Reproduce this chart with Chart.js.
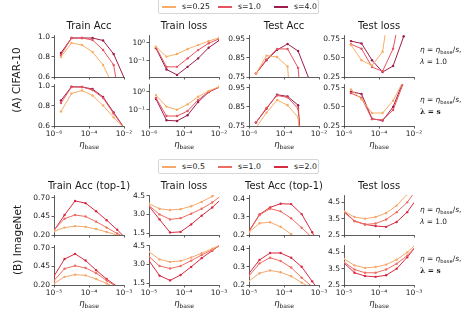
<!DOCTYPE html>
<html>
<head>
<meta charset="utf-8">
<script src="https://cdn.jsdelivr.net/npm/chart.js@4.4.1/dist/chart.umd.min.js"></script>
<style>
  body { margin: 0; width: 474px; height: 322px; position: relative; background: #fff; overflow: hidden;
         font-family: "DejaVu Sans", sans-serif; color: #1a1a1a; }
  canvas { position: absolute; }
  .t { position: absolute; white-space: nowrap; transform: translateX(-50%); font-size: 10px; line-height: 1; }
  .xl { position: absolute; white-space: nowrap; transform: translateX(-50%); font-size: 8.5px; line-height: 1; font-style: italic; }
  .xl sub { font-size: 6px; font-style: normal; vertical-align: -2px; }
  .note { position: absolute; white-space: nowrap; font-size: 7.4px; line-height: 10px; }
  .note sub { font-size: 5.2px; vertical-align: -1.5px; }
  .side { position: absolute; white-space: nowrap; font-size: 10.5px; transform: translate(-50%, -50%) rotate(-90deg); }
  .legend { position: absolute; border: 1px solid #d6d6d6; border-radius: 2px; background: #fff; }
  .legend span { position: absolute; font-size: 7.8px; line-height: 1; }
  .legend i { position: absolute; height: 1.5px; }
</style>
</head>
<body>
<script>
// learning rates (x axis, eta_base)
const cifarLR = [2.5e-6, 1e-5, 4e-5, 1.6e-4, 6.4e-4, 2.56e-3, 1.024e-2];
const imagenetLR = [1e-5, 2e-5, 4e-5, 8e-5, 1.6e-4, 3.2e-4, 6.4e-4, 1.28e-3];

const cifarSeries = ['s=0.25', 's=1.0', 's=4.0'];
const imagenetSeries = ['s=0.5', 's=1.0', 's=2.0'];
const cifarColors = ['#f6ae66', '#e5545e', '#9e1c4c'];
const imagenetColors = ['#f5a86b', '#ee6d62', '#d82a42'];

const cifarXTicks = [1e-6, 1e-4, 1e-2];
const cifarXLabels = ['10⁻⁶', '10⁻⁴', '10⁻²'];
const imagenetXTicks = [1e-5, 1e-4, 1e-3];
const imagenetXLabels = ['10⁻⁵', '10⁻⁴', '10⁻³'];

// CIFAR-10, lambda = 1.0   (one row per s)
const cifarTrainAcc1 = [
  [0.80, 0.94, 0.92, 0.85, 0.72, 0.50, 0.10],
  [0.82, 0.99, 0.99, 0.97, 0.87, 0.72, 0.10],
  [0.84, 0.99, 0.99, 0.99, 0.965, 0.83, 0.59]];
const cifarTrainLoss1 = [
  [0.60, 0.17, 0.235, 0.45, 0.74, 1.24, 1.9],
  [0.55, 0.046, 0.046, 0.135, 0.39, 0.93, 1.65],
  [0.50, 0.033, 0.0165, 0.046, 0.135, 0.53, 1.35]];
const cifarTestAcc1 = [
  [0.768, 0.862, 0.855, 0.805, 0.10, 0.10, 0.10],
  [0.768, 0.842, 0.897, 0.897, 0.798, 0.10, 0.10],
  [0.768, 0.838, 0.892, 0.923, 0.886, 0.745, 0.10]];
const cifarTestLoss1 = [
  [0.67, 0.47, 0.40, 0.58, 1.5, 2.0, 2.0],
  [0.68, 0.62, 0.38, 0.325, 0.62, 1.3, 2.0],
  [0.72, 0.69, 0.47, 0.315, 0.395, 0.78, 2.0]];

// CIFAR-10, lambda = s
const cifarTrainAcc2 = [
  [0.745, 0.925, 0.955, 0.905, 0.805, 0.686, 0.58],
  [0.83, 0.99, 0.99, 0.96, 0.88, 0.725, 0.58],
  [0.855, 0.993, 0.99, 0.97, 0.89, 0.735, 0.58]];
const cifarTrainLoss2 = [
  [0.65, 0.15, 0.10, 0.20, 0.53, 1.1, 1.9],
  [0.45, 0.045, 0.045, 0.085, 0.35, 1.0, 1.8],
  [0.40, 0.026, 0.024, 0.05, 0.27, 0.95, 1.8]];
const cifarTestAcc2 = [
  [0.74, 0.82, 0.886, 0.859, 0.795, 0.10, 0.10],
  [0.768, 0.845, 0.91, 0.90, 0.841, 0.10, 0.10],
  [0.768, 0.841, 0.914, 0.905, 0.859, 0.10, 0.10]];
const cifarTestLoss2 = [
  [0.73, 0.60, 0.42, 0.42, 0.58, 0.85, 2.0],
  [0.68, 0.62, 0.34, 0.33, 0.46, 0.82, 2.0],
  [0.70, 0.67, 0.345, 0.32, 0.50, 0.85, 2.0]];

// ImageNet, lambda = 1.0
const imagenetTrainAcc1 = [
  [0.25, 0.30, 0.32, 0.31, 0.28, 0.24, 0.20, 0.15],
  [0.27, 0.42, 0.47, 0.45, 0.38, 0.30, 0.22, 0.15],
  [0.26, 0.47, 0.66, 0.63, 0.52, 0.40, 0.27, 0.13]];
const imagenetTrainLoss1 = [
  [3.85, 3.45, 3.35, 3.42, 3.65, 4.0, 4.45, 5.0],
  [3.7, 3.0, 2.6, 2.7, 3.05, 3.45, 3.95, 4.6],
  [3.65, 2.6, 1.55, 1.6, 2.2, 2.9, 3.55, 4.35]];
const imagenetTestAcc1 = [
  [0.215, 0.265, 0.27, 0.245, 0.205, 0.16, 0.12, 0.10],
  [0.218, 0.31, 0.345, 0.33, 0.292, 0.24, 0.185, 0.12],
  [0.222, 0.313, 0.352, 0.372, 0.37, 0.315, 0.215, 0.10]];
const imagenetTestLoss1 = [
  [3.95, 3.6, 3.5, 3.6, 3.85, 4.3, 5.0, 6.0],
  [3.9, 3.35, 3.15, 3.2, 3.45, 3.9, 4.5, 5.4],
  [3.95, 3.35, 3.15, 3.05, 3.0, 3.3, 3.9, 4.8]];

// ImageNet, lambda = s
const imagenetTrainAcc2 = [
  [0.22, 0.31, 0.34, 0.33, 0.28, 0.22, 0.15, 0.10],
  [0.26, 0.42, 0.46, 0.43, 0.36, 0.26, 0.17, 0.10],
  [0.32, 0.55, 0.62, 0.53, 0.40, 0.28, 0.18, 0.10]];
const imagenetTrainLoss2 = [
  [4.0, 3.4, 3.2, 3.28, 3.55, 3.9, 4.25, 4.65],
  [3.62, 2.87, 2.67, 2.87, 3.3, 3.75, 4.17, 4.6],
  [3.3, 2.1, 1.72, 2.15, 2.8, 3.5, 4.1, 4.72]];
const imagenetTestAcc2 = [
  [0.222, 0.265, 0.28, 0.27, 0.248, 0.213, 0.18, 0.13],
  [0.25, 0.319, 0.35, 0.332, 0.296, 0.24, 0.19, 0.12],
  [0.264, 0.338, 0.376, 0.376, 0.35, 0.30, 0.22, 0.14]];
const imagenetTestLoss2 = [
  [4.1, 3.7, 3.55, 3.6, 3.75, 4.05, 4.5, 5.1],
  [3.9, 3.45, 3.25, 3.25, 3.45, 3.8, 4.3, 5.0],
  [3.85, 3.25, 3.05, 3.0, 3.1, 3.5, 4.2, 5.0]];

// y tick values / labels
const cTrainAccTicks = [0.6, 0.8, 1.0], cTrainAccLabels = ['0.6', '0.8', '1.0'];
const cTrainLossTicks = [0.1, 1], cTrainLossLabels = ['10⁻¹', '10⁰'];
const cTestAccTicks = [0.75, 0.85, 0.95], cTestAccLabels = ['0.75', '0.85', '0.95'];
const cTestLossTicks = [0.25, 0.5, 0.75], cTestLossLabels = ['0.25', '0.50', '0.75'];
const iTrainAccTicks = [0.2, 0.45, 0.7], iTrainAccLabels = ['0.20', '0.45', '0.70'];
const iTrainLossTicks = [1.5, 3.0, 4.5], iTrainLossLabels = ['1.5', '3.0', '4.5'];
const iTestAccTicks = [0.2, 0.3, 0.4], iTestAccLabels = ['0.2', '0.3', '0.4'];
const iTestLossTicks = [2.5, 3.5, 4.5], iTestLossLabels = ['2.5', '3.5', '4.5'];

// layout
const colLeft = [54, 149, 249, 344];
const plotW = 70;
const rowTop = [35, 84, 195, 245];
const plotH = [42, 42, 40, 40];
const YW = 34, PT = 6, PR = 14, XH = 15;
const tickFont = { family: 'DejaVu Sans', size: 7.5 };
const ink = '#1a1a1a';

function panel(col, row, xs, xr, xt, xlab, showX, series, colors, yr, yt, ylab, yLog) {
  const c = document.createElement('canvas');
  const W = YW + plotW + PR, H = PT + plotH[row] + XH;
  c.width = W; c.height = H;
  c.style.width = W + 'px'; c.style.height = H + 'px';
  c.style.left = (colLeft[col] - YW) + 'px';
  c.style.top = (rowTop[row] - PT) + 'px';
  document.body.appendChild(c);

  new Chart(c, {
    type: 'line',
    data: {
      datasets: series.map((ys, i) => ({
        data: xs.map((x, j) => ({ x: x, y: ys[j] })),
        borderColor: colors[i],
        backgroundColor: colors[i],
        borderWidth: 1,
        pointRadius: 1.2,
        pointBorderWidth: 0,
        tension: 0
      }))
    },
    options: {
      responsive: false,
      animation: false,
      devicePixelRatio: 1,
      layout: { padding: { top: PT, right: PR, left: 0, bottom: 0 } },
      plugins: { legend: { display: false }, tooltip: { enabled: false } },
      scales: {
        x: {
          type: 'logarithmic', min: xr[0], max: xr[1], bounds: 'data',
          afterBuildTicks: s => { s.ticks = xt.map(v => ({ value: v })); },
          afterFit: s => { s.height = XH; },
          ticks: { display: showX, autoSkip: false, maxRotation: 0, padding: 1.5, font: tickFont, color: ink,
                   callback: (v, i) => xlab[i] },
          grid: { drawOnChartArea: false, tickLength: 2.5, color: '#333', lineWidth: 0.8 },
          border: { color: '#333', width: 0.8 }
        },
        y: {
          type: yLog ? 'logarithmic' : 'linear', min: yr[0], max: yr[1], bounds: 'data',
          afterBuildTicks: s => { s.ticks = yt.map(v => ({ value: v })); },
          afterFit: s => { s.width = YW; },
          ticks: { autoSkip: false, padding: 1.5, font: tickFont, color: ink,
                   callback: (v, i) => ylab[i] },
          grid: { drawOnChartArea: false, tickLength: 2.5, color: '#333', lineWidth: 0.8 },
          border: { color: '#333', width: 0.8 }
        }
      }
    }
  });
}

const cx = [1e-6, 1e-2], ix = [1e-5, 1e-3];
// CIFAR-10
panel(0, 0, cifarLR, cx, cifarXTicks, cifarXLabels, false, cifarTrainAcc1, cifarColors, [0.6, 1.02], cTrainAccTicks, cTrainAccLabels, false);
panel(1, 0, cifarLR, cx, cifarXTicks, cifarXLabels, false, cifarTrainLoss1, cifarColors, [0.0126, 2.68], cTrainLossTicks, cTrainLossLabels, true);
panel(2, 0, cifarLR, cx, cifarXTicks, cifarXLabels, false, cifarTestAcc1, cifarColors, [0.75, 0.97], cTestAccTicks, cTestAccLabels, false);
panel(3, 0, cifarLR, cx, cifarXTicks, cifarXLabels, false, cifarTestLoss1, cifarColors, [0.25, 0.80], cTestLossTicks, cTestLossLabels, false);
panel(0, 1, cifarLR, cx, cifarXTicks, cifarXLabels, true, cifarTrainAcc2, cifarColors, [0.6, 1.02], cTrainAccTicks, cTrainAccLabels, false);
panel(1, 1, cifarLR, cx, cifarXTicks, cifarXLabels, true, cifarTrainLoss2, cifarColors, [0.0126, 2.68], cTrainLossTicks, cTrainLossLabels, true);
panel(2, 1, cifarLR, cx, cifarXTicks, cifarXLabels, true, cifarTestAcc2, cifarColors, [0.75, 0.97], cTestAccTicks, cTestAccLabels, false);
panel(3, 1, cifarLR, cx, cifarXTicks, cifarXLabels, true, cifarTestLoss2, cifarColors, [0.25, 0.80], cTestLossTicks, cTestLossLabels, false);
// ImageNet
panel(0, 2, imagenetLR, ix, imagenetXTicks, imagenetXLabels, false, imagenetTrainAcc1, imagenetColors, [0.2, 0.74], iTrainAccTicks, iTrainAccLabels, false);
panel(1, 2, imagenetLR, ix, imagenetXTicks, imagenetXLabels, false, imagenetTrainLoss1, imagenetColors, [1.35, 4.55], iTrainLossTicks, iTrainLossLabels, false);
panel(2, 2, imagenetLR, ix, imagenetXTicks, imagenetXLabels, false, imagenetTestAcc1, imagenetColors, [0.2, 0.42], iTestAccTicks, iTestAccLabels, false);
panel(3, 2, imagenetLR, ix, imagenetXTicks, imagenetXLabels, false, imagenetTestLoss1, imagenetColors, [2.5, 4.95], iTestLossTicks, iTestLossLabels, false);
panel(0, 3, imagenetLR, ix, imagenetXTicks, imagenetXLabels, true, imagenetTrainAcc2, imagenetColors, [0.2, 0.74], iTrainAccTicks, iTrainAccLabels, false);
panel(1, 3, imagenetLR, ix, imagenetXTicks, imagenetXLabels, true, imagenetTrainLoss2, imagenetColors, [1.35, 4.55], iTrainLossTicks, iTrainLossLabels, false);
panel(2, 3, imagenetLR, ix, imagenetXTicks, imagenetXLabels, true, imagenetTestAcc2, imagenetColors, [0.2, 0.42], iTestAccTicks, iTestAccLabels, false);
panel(3, 3, imagenetLR, ix, imagenetXTicks, imagenetXLabels, true, imagenetTestLoss2, imagenetColors, [2.5, 4.95], iTestLossTicks, iTestLossLabels, false);

// text: titles, axis labels, annotations, legends
function text(cls, x, y, html) {
  const d = document.createElement('div');
  d.className = cls; d.style.left = x + 'px'; d.style.top = y + 'px'; d.innerHTML = html;
  document.body.appendChild(d);
  return d;
}
const cifarTitles = ['Train Acc', 'Train loss', 'Test Acc', 'Test loss'];
const imagenetTitles = ['Train Acc (top-1)', 'Train loss', 'Test Acc (top-1)', 'Test loss'];
colLeft.forEach((l, i) => {
  text('t', l + plotW / 2, 21, cifarTitles[i]);
  text('t', l + plotW / 2, 181, imagenetTitles[i]);
  text('xl', l + plotW / 2, 140, 'η<sub>base</sub>');
  text('xl', l + plotW / 2, 299, 'η<sub>base</sub>');
});
const eta = '<i>η</i> = <i>η</i><sub>base</sub>/<i>s</i>,';
text('note', 420, 45, eta + '<br><i>λ</i> = 1.0');
text('note', 420, 95, eta + '<br><b style="font-family:\'DejaVu Serif\'">λ = s</b>');
text('note', 420, 205, eta + '<br><i>λ</i> = 1.0');
text('note', 420, 254, eta + '<br><b style="font-family:\'DejaVu Serif\'">λ = s</b>');
text('side', 16, 80, '(A) CIFAR-10');
text('side', 17, 240, '(B) ImageNet');

function legend(top, labels, colors) {
  const box = text('legend', 158, top, '');
  box.style.width = '159px'; box.style.height = '13px';
  labels.forEach((lab, i) => {
    const x0 = 3 + i * 56;
    const ln = document.createElement('i');
    ln.style.left = x0 + 'px'; ln.style.width = '14px'; ln.style.top = '6px'; ln.style.background = colors[i];
    box.appendChild(ln);
    const s = document.createElement('span');
    s.style.left = (x0 + 20) + 'px'; s.style.top = '3px'; s.textContent = lab;
    box.appendChild(s);
  });
}
legend(-1, cifarSeries, cifarColors);
legend(159, imagenetSeries, imagenetColors);
</script>
</body>
</html>
